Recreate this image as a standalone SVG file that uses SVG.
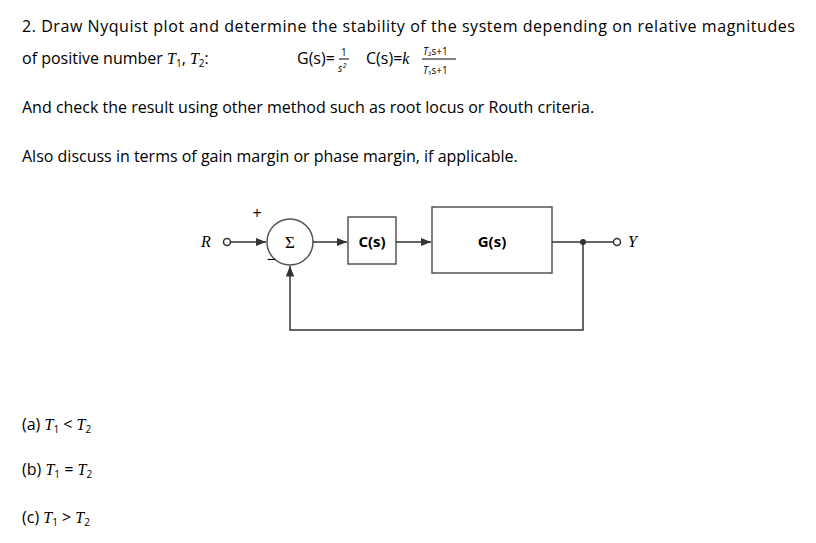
<svg xmlns="http://www.w3.org/2000/svg" width="816" height="543" viewBox="0 0 816 543">
<style>
.t{font-family:"Open Sans","Noto Sans",sans-serif;font-size:16px;fill:#000}
.m{font-family:"Liberation Serif",serif;font-style:italic;font-size:16px}
.s{font-family:"Open Sans",sans-serif;font-size:10px}
.b{fill:#fff;stroke:#555;stroke-width:1.5}
.l{fill:none;stroke:#333;stroke-width:1.5}
.lb{font-family:"Open Sans",sans-serif;font-size:15px;font-weight:bold}
</style>
<defs><marker id="a" viewBox="0 0 10 10" refX="10" refY="5" markerWidth="7" markerHeight="7" orient="auto"><path d="M0,1L10,5L0,9z" fill="#333"/></marker></defs>
<rect width="816" height="543" fill="#fff"/>
<text class="t" x="22" y="32" textLength="773">2. Draw Nyquist plot and determine the stability of the system depending on relative magnitudes</text>
<text class="t" x="22" y="64">of positive number <tspan class="m">T</tspan><tspan class="s" dy="3">1</tspan><tspan dy="-3">, </tspan><tspan class="m">T</tspan><tspan class="s" dy="3">2</tspan><tspan dy="-3">:</tspan></text>
<text class="t" x="297" y="64">G(s)=</text>
<text class="s" x="341" y="56">1</text><line x1="339" y1="59" x2="349" y2="59" stroke="#000"/><text class="s" x="338" y="72" font-style="italic">s²</text>
<text class="t" x="366" y="64">C(s)=<tspan class="m">k</tspan></text>
<line x1="422" y1="59" x2="456" y2="59" stroke="#000"/>
<text class="s" x="423" y="55"><tspan font-style="italic">T</tspan>₂s+1</text>
<text class="s" x="423" y="74"><tspan font-style="italic">T</tspan>₁s+1</text>
<text class="t" x="22" y="113">And check the result using other method such as root locus or Routh criteria.</text>
<text class="t" x="22" y="162">Also discuss in terms of gain margin or phase margin, if applicable.</text>
<g id="R"><text class="m" x="201" y="247">R</text><circle cx="227" cy="242" r="3.5" class="l"/></g>
<g id="sum"><circle cx="290" cy="242" r="23" class="b"/><text x="290" y="248" text-anchor="middle" font-family="Liberation Serif" font-size="17">Σ</text><text x="257" y="219" class="t" text-anchor="middle">+</text><text x="271" y="265" class="t" text-anchor="middle">−</text></g>
<g id="C"><rect x="348" y="217" width="48" height="47" class="b"/><text class="lb" x="372" y="247" text-anchor="middle">C(s)</text></g>
<g id="G"><rect x="432" y="207" width="120" height="66" class="b"/><text class="lb" x="492" y="247" text-anchor="middle">G(s)</text></g>
<g id="Y"><circle cx="617" cy="242" r="3.5" class="l"/><text class="m" x="628" y="247">Y</text></g>
<g id="connectors">
<line x1="230.5" y1="242" x2="266" y2="242" class="l" marker-end="url(#a)"/>
<line x1="313" y1="242" x2="347" y2="242" class="l" marker-end="url(#a)"/>
<line x1="396" y1="242" x2="431" y2="242" class="l" marker-end="url(#a)"/>
<line x1="552" y1="242" x2="613.5" y2="242" class="l"/>
<circle cx="583" cy="242" r="3" fill="#333"/>
<path d="M583,242V330H290V266" class="l" marker-end="url(#a)"/>
</g>
<text class="t" x="22" y="430">(a) <tspan class="m">T</tspan><tspan class="s" dy="3">1</tspan><tspan dy="-3"> &lt; </tspan><tspan class="m">T</tspan><tspan class="s" dy="3">2</tspan></text>
<text class="t" x="22" y="475">(b) <tspan class="m">T</tspan><tspan class="s" dy="3">1</tspan><tspan dy="-3"> = </tspan><tspan class="m">T</tspan><tspan class="s" dy="3">2</tspan></text>
<text class="t" x="22" y="523">(c) <tspan class="m">T</tspan><tspan class="s" dy="3">1</tspan><tspan dy="-3"> &gt; </tspan><tspan class="m">T</tspan><tspan class="s" dy="3">2</tspan></text>
</svg>
